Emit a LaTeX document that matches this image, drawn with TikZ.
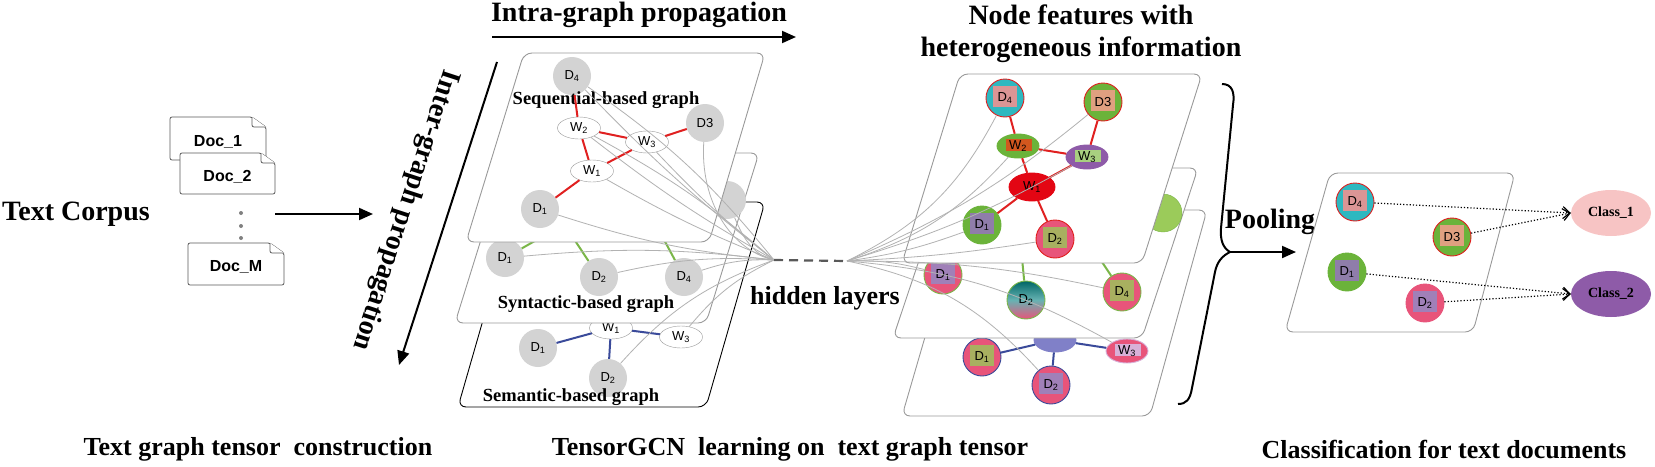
\documentclass[tikz,border=0pt]{standalone}
\usepackage{fontspec}
\setmainfont{Liberation Serif}
\setsansfont{Liberation Sans}
\usetikzlibrary{arrows.meta,shapes.geometric,calc}
\definecolor{gnd}{HTML}{D3D3D3}
\definecolor{ered}{HTML}{E02020}
\definecolor{egreen}{HTML}{7AB648}
\definecolor{eblue}{HTML}{3A4A9A}
\definecolor{cteal}{HTML}{2EB8C0}
\definecolor{cpink}{HTML}{DB9595}
\definecolor{cgreen}{HTML}{6BB33A}
\definecolor{csalmon}{HTML}{E0A080}
\definecolor{corange}{HTML}{D2571E}
\definecolor{cpurple}{HTML}{8E5BA8}
\definecolor{clime}{HTML}{A8D080}
\definecolor{cred}{HTML}{E30613}
\definecolor{cgrape}{HTML}{8F7DAA}
\definecolor{crose}{HTML}{E8547A}
\definecolor{colive}{HTML}{A8B060}
\definecolor{cviolet}{HTML}{A080B8}
\definecolor{clav}{HTML}{8080C8}
\definecolor{clilac}{HTML}{D8B0D8}
\definecolor{clight}{HTML}{9BCB5A}
\definecolor{cone}{HTML}{F7C4C4}
\newcommand\mydoc[6]{%
  \draw[docline] (#2,#3) -- (#4-14,#3) -- (#4,#3+10) -- (#4,#5) -- (#2,#5) -- cycle;
  \draw[docline] (#4-14,#3) -- (#4-14,#3+10) -- (#4,#3+10);
  \node[doctext] (#1) at ({(#2+#4)/2},{(#3+#5)/2+3}) {#6};}
\tikzset{
  x=1pt,y=-1pt,
  sheet/.style={draw=gray!80,line width=0.9pt,fill=white,rounded corners=8pt},
  docline/.style={draw=gray!70!black,line width=0.8pt,fill=white,rounded corners=2pt},
  doctext/.style={font=\sffamily\bfseries\fontsize{16}{16}\selectfont},
  title/.style={font=\bfseries\fontsize{28}{28}\selectfont},
  blabel/.style={font=\bfseries\fontsize{26}{26}\selectfont},
  glabel/.style={font=\bfseries\fontsize{18.5}{18.5}\selectfont},
  gn/.style={circle,fill=gnd,minimum size=38pt,inner sep=0pt,font=\sffamily\fontsize{13}{13}\selectfont},
  wn/.style={ellipse,draw=gray!80,fill=white,minimum width=43pt,minimum height=22pt,inner sep=0pt,font=\sffamily\fontsize{13}{13}\selectfont},
  cn/.style n args={3}{circle,minimum size=38pt,inner sep=0pt,fill=#1,draw=#2,line width=0.9pt,
     font=\sffamily\fontsize{13}{13}\selectfont,
     path picture={\fill[#3] ($(path picture bounding box.center)+(-12,-12)$) rectangle ($(path picture bounding box.center)+(12,9)$);}},
  ce/.style n args={3}{ellipse,minimum width=42pt,minimum height=24pt,inner sep=0pt,fill=#1,draw=#2,line width=0.9pt,
     font=\sffamily\fontsize{13}{13}\selectfont,
     path picture={\fill[#3] ($(path picture bounding box.center)+(-12,-7)$) rectangle ($(path picture bounding box.center)+(14,5)$);}},
  re/.style={ered,line width=2pt},
  ge/.style={egreen,line width=2pt},
  be/.style={eblue,line width=2pt},
  fan/.style={gray!60,line width=0.8pt},
  big/.style={line width=2pt,-{Triangle[length=14pt,width=12pt]}},
  dt/.style={dotted,line width=1.2pt,-{Straight Barb[length=7pt,width=12pt]}},
}
\begin{document}
\begin{tikzpicture}
\useasboundingbox (0,0) rectangle (1655,466);
% ---------- titles
\node[title] (tintra) at (639,15) {Intra-graph propagation};
\coordinate (ia) at (492,37); \coordinate (ib) at (796,37);
\draw[big] (ia) -- (ib);
\coordinate (pa) at (497,62); \coordinate (pb) at (399,365);
\draw[big] (pa) -- (pb);
\node[title,rotate=-108] (tinter) at (405,210) {Inter-graph propagation};
\node[title] (tcorpus) at (76,214) {Text Corpus};
\node[title] (tnf1) at (1081,15) {Node features with};
\node[title] (tnf2) at (1081,50) {heterogeneous information};
\node[blabel] (b1) at (258,449) {Text graph tensor\ \ construction};
\node[blabel] (b2) at (790,449) {TensorGCN\ \ learning on\ \ text graph tensor};
\node[blabel] (b3) at (1444,449) {Classification for text documents};
% ---------- docs
\mydoc{d1}{170}{117}{266}{160}{Doc\_1}
\mydoc{d2}{180}{153}{275}{194}{Doc\_2}
\mydoc{dm}{188}{243}{284}{285}{Doc\_M}
\foreach \yy in {213,226,238} \fill[gray] (241,\yy) circle (2pt);
\coordinate (ca) at (275,214); \coordinate (cb) at (373,214);
\draw[big] (ca) -- (cb);
% ---------- left stack: semantic
\draw[line width=0.9pt,fill=white,rounded corners=8pt] (517,202) -- (765,202) -- (706,407) -- (458,407) -- cycle;
\node[wn] (sw1) at (611,328) {W\textsubscript{1}};
\node[wn] (sw3) at (681,337) {W\textsubscript{3}};
\node[gn] (sd1) at (538,348) {D\textsubscript{1}};
\node[gn] (sd2) at (608,378) {D\textsubscript{2}};
\draw[be] (sd1) -- (sw1); \draw[be] (sw1) -- (sw3); \draw[be] (sw1) -- (sd2);
\node[glabel] (lsem) at (571,397) {Semantic-based graph};
% syntactic
\draw[sheet] (508,153) -- (759,153) -- (706,323) -- (455,323) -- cycle;
\node[gn] (yd3) at (727,200) {};
\node[gn] (yd1) at (505,258) {D\textsubscript{1}};
\node[gn] (yd2) at (599,277) {D\textsubscript{2}};
\node[gn] (yd4) at (684,277) {D\textsubscript{4}};
\coordinate (yh1) at (540,238); \coordinate (yh2) at (572,236); \coordinate (yh3) at (662,236);
\draw[ge] (yd1) -- (yh1); \draw[ge] (yd2) -- (yh2); \draw[ge] (yd4) -- (yh3);
\node[glabel] (lsyn) at (586,304) {Syntactic-based graph};
% sequential
\draw[sheet] (524,53) -- (765,53) -- (709,242) -- (466,242) -- cycle;
\node[gn] (td4) at (572,76) {D\textsubscript{4}};
\node[glabel] (lseq) at (606,100) {Sequential-based graph};
\node[wn] (tw2) at (579,128) {W\textsubscript{2}};
\node[wn] (tw3) at (647,142) {W\textsubscript{3}};
\node[gn] (td3) at (705,123) {D3};
\node[wn] (tw1) at (592,171) {W\textsubscript{1}};
\node[gn] (td1) at (540,209) {D\textsubscript{1}};
\draw[re] (td4) -- (tw2); \draw[re] (tw2) -- (tw3); \draw[re] (tw3) -- (td3);
\draw[re] (tw2) -- (tw1); \draw[re] (tw1) -- (tw3); \draw[re] (tw1) -- (td1);
% left fan
\coordinate (cv) at (774,260);
\foreach \n/\b in {td4/4,tw2/4,tw3/4,tw1/4,td1/6,yd1/-6,yd2/-8,yd4/-10,sw3/-12,sd2/-14} \draw[fan] (\n) to[bend right=\b] (cv);
\draw[fan] (td3) .. controls (700,200) and (730,250) .. (cv);
\draw[fan] (yd3) .. controls (740,230) and (750,255) .. (cv);
\draw[fan] (tw2) to[bend left=6] (cv);
\draw[fan] (td4) to[bend left=8] (cv);
\draw[gray!70!black,line width=2.2pt,dash pattern=on 9pt off 6pt] (cv) -- (847,261);
\node[blabel] (thl) at (825,298) {hidden layers};
% ---------- right stack: bottom
\draw[sheet] (962,210) -- (1207,210) -- (1150,416) -- (902,416) -- cycle;
\node[ce={clav}{clav}{clav}] (rw1) at (1055,340) {};
\node[cn={crose}{eblue}{colive}] (rbd1) at (982,357) {D\textsubscript{1}};
\node[ce={crose}{clilac}{clilac}] (rw3) at (1127,351) {W\textsubscript{3}};
\node[cn={crose}{eblue}{cviolet}] (rbd2) at (1051,385) {D\textsubscript{2}};
\draw[be] (rbd1) -- (rw1); \draw[be] (rw1) -- (rw3); \draw[be] (rw1) -- (rbd2);
% middle
\draw[sheet] (950,168) -- (1198,168) -- (1142,338) -- (893,338) -- cycle;
\node[circle,minimum size=38pt,fill=clight,draw=egreen] (rmh) at (1163,213) {};
\node[cn={crose}{egreen}{cviolet}] (rmd1) at (943,275) {D\textsubscript{1}};
\node[circle,minimum size=38pt,inner sep=0pt,top color=teal!80!black,bottom color=crose,middle color=teal!60,draw=egreen,line width=0.9pt,font=\sffamily\fontsize{13}{13}\selectfont] (rmd2) at (1026,300) {D\textsubscript{2}};
\node[cn={crose}{egreen}{colive}] (rmd4) at (1122,292) {D\textsubscript{4}};
\coordinate (rh1) at (1022,258); \coordinate (rh2) at (1102,262);
\draw[ge] (rmd2) -- (rh1); \draw[ge] (rmd4) -- (rh2);
% top
\draw[sheet] (960,74) -- (1202,74) -- (1142,263) -- (902,263) -- cycle;
\node[cn={cteal}{ered}{cpink}] (rd4) at (1005,98) {D\textsubscript{4}};
\node[cn={cgreen}{ered}{csalmon}] (rd3) at (1103,102) {D3};
\node[ce={cgreen}{cgreen}{corange}] (rw2) at (1018,146) {W\textsubscript{2}};
\node[ce={cpurple}{cpurple}{clime}] (rw3t) at (1087,157) {W\textsubscript{3}};
\node[ce={cred}{cred}{cred},minimum width=46pt,minimum height=28pt] (rw1t) at (1032,187) {W\textsubscript{1}};
\node[cn={cgreen}{cgreen}{cgrape}] (rd1) at (982,225) {D\textsubscript{1}};
\node[cn={crose}{ered}{colive}] (rd2) at (1055,239) {D\textsubscript{2}};
\draw[re] (rd4) -- (rw2); \draw[re] (rw2) -- (rw3t); \draw[re] (rw3t) -- (rd3);
\draw[re] (rw2) -- (rw1t); \draw[re] (rw1t) -- (rw3t); \draw[re] (rw1t) -- (rd1); \draw[re] (rw1t) -- (rd2);
% right fan
\coordinate (cw) at (847,261);
\foreach \n/\b in {rd4/-18,rw2/-15,rd3/-8,rw3t/-6,rd1/-6,rd2/-3,rmd1/8,rmd4/6,rw3/12,rbd2/18} \draw[fan] (cw) to[bend left=\b] (\n);
% brace
\draw[line width=2pt] (1222,84) .. controls (1232,84) and (1235,92) .. (1233,105) -- (1221,228) .. controls (1220,240) and (1223,248) .. (1230,252) .. controls (1222,256) and (1217,262) .. (1215,272) -- (1192,388) .. controls (1190,400) and (1186,404) .. (1178,404);
\node[title] (tpool) at (1270,222) {Pooling};
\coordinate (qa) at (1230,252); \coordinate (qb) at (1296,252);
\draw[big] (qa) -- (qb);
% ---------- classification
\draw[sheet] (1330,173) -- (1515,173) -- (1473,332) -- (1285,332) -- cycle;
\node[cn={cteal}{ered}{cpink}] (kd4) at (1355,202) {D\textsubscript{4}};
\node[cn={cgreen}{ered}{csalmon}] (kd3) at (1452,237) {D3};
\node[cn={cgreen}{cgreen}{cgrape}] (kd1) at (1347,272) {D\textsubscript{1}};
\node[cn={crose}{crose}{cviolet}] (kd2) at (1425,303) {D\textsubscript{2}};
\node[ellipse,fill=cone,minimum width=80pt,minimum height=46pt,font=\bfseries\fontsize{14}{14}\selectfont] (k1) at (1611,213) {Class\_1};
\node[ellipse,fill=cpurple,minimum width=80pt,minimum height=46pt,font=\bfseries\fontsize{14}{14}\selectfont] (k2) at (1611,294) {Class\_2};
\draw[dt] (kd4) -- (k1.west); \draw[dt] (kd3) -- (k1.west);
\draw[dt] (kd1) -- (k2.west); \draw[dt] (kd2) -- (k2.west);
\end{tikzpicture}
\end{document}
